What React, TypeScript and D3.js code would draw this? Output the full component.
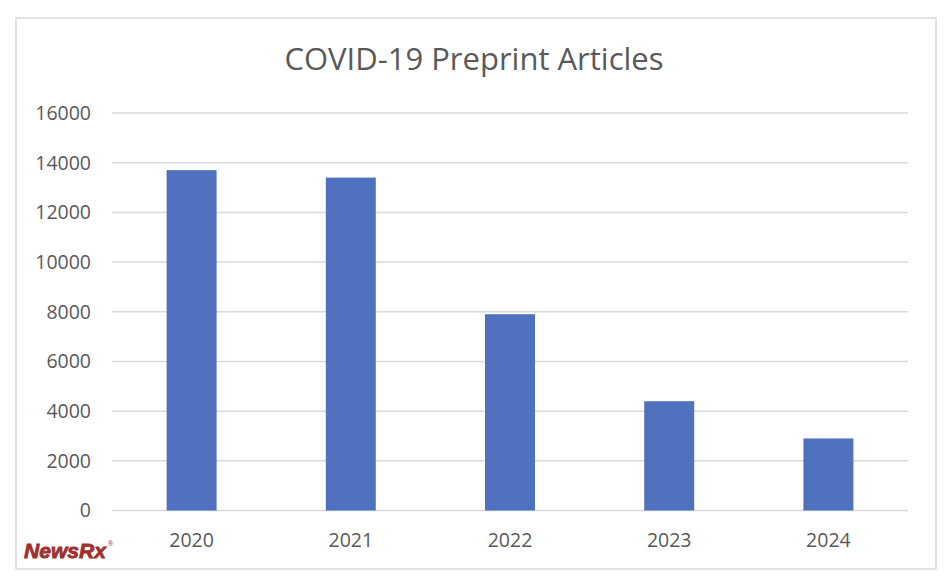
import React from 'react';
import * as d3 from 'd3';

const years = ['2020', '2021', '2022', '2023', '2024'];
const articles = [13700, 13400, 7900, 4400, 2900];
const yTicks = [0, 2000, 4000, 6000, 8000, 10000, 12000, 14000, 16000];
const title = 'COVID-19 Preprint Articles';

const App = () => {
  const width = 946;
  const height = 580;
  const font = '"Open Sans", sans-serif';
  const textColor = '#595959';

  const x = d3
    .scaleBand<string>()
    .domain(years)
    .range([112, 908])
    .paddingInner(0.686)
    .paddingOuter(0.343);
  const y = d3.scaleLinear().domain([0, 16000]).range([510.5, 113]);

  return (
    <div style={{ position: 'fixed', left: 0, top: 0, background: '#fff' }}>
      <svg width={width} height={height} style={{ display: 'block' }}>
        <rect x={0} y={0} width={width} height={height} fill="#fff" />
        <rect
          x={16}
          y={18}
          width={920}
          height={551}
          fill="#fff"
          stroke="#d9d9d9"
          strokeWidth={1.5}
        />
        <text
          x={474}
          y={70}
          textAnchor="middle"
          fontFamily={font}
          fontSize={31}
          fill={textColor}
        >
          {title}
        </text>

        {/* gridlines + y labels */}
        {yTicks.map(t => (
          <g key={t}>
            <line
              x1={112}
              x2={908}
              y1={y(t)}
              y2={y(t)}
              stroke="#d9d9d9"
              strokeWidth={1.5}
            />
            <text
              x={91}
              y={y(t)}
              dy="0.35em"
              textAnchor="end"
              fontFamily={font}
              fontSize={19.5}
              fill={textColor}
            >
              {t}
            </text>
          </g>
        ))}

        {/* bars */}
        {years.map((yr, i) => (
          <rect
            key={yr}
            x={x(yr)}
            y={y(articles[i])}
            width={x.bandwidth()}
            height={y(0) - y(articles[i])}
            fill="#4f71be"
          />
        ))}

        {/* x labels */}
        {years.map(yr => (
          <text
            key={yr}
            x={(x(yr) as number) + x.bandwidth() / 2}
            y={547}
            textAnchor="middle"
            fontFamily={font}
            fontSize={19.5}
            fill={textColor}
          >
            {yr}
          </text>
        ))}

        {/* logo */}
        <text
          x={24}
          y={557.5}
          fontFamily='"Liberation Sans", Arial, sans-serif'
          fontWeight="bold"
          fontStyle="italic"
          fontSize={21}
          textLength={82}
          lengthAdjust="spacingAndGlyphs"
          fill="#a0302c"
          stroke="#a0302c"
          strokeWidth={0.8}
        >
          NewsRx
        </text>
        <text
          x={108}
          y={546}
          fontFamily='"Liberation Sans", Arial, sans-serif'
          fontSize={7}
          fill="#a0302c"
        >
          ®
        </text>
      </svg>
    </div>
  );
};

export default App;
